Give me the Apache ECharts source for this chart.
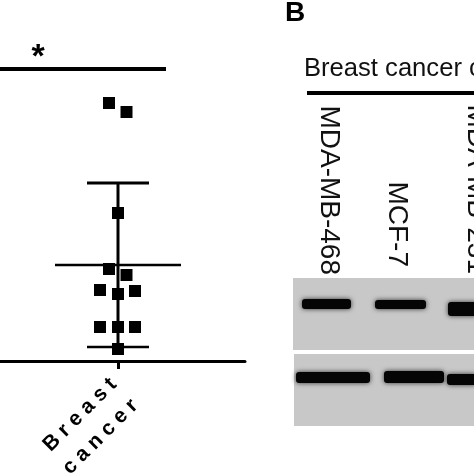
<!DOCTYPE html>
<html><head><meta charset="utf-8">
<style>html,body{margin:0;padding:0;background:#fff}#c{width:474px;height:474px}</style>
<script src="https://cdn.jsdelivr.net/npm/echarts@6/dist/echarts.min.js"></script>
</head><body><div id="c"></div>
<script>
const categoryLabel = 'B r e a s t\nc a n c e r';
const pointX = [-0.9, 0.85, 0, -0.9, 0.85, -1.8, 0, 1.7, -1.8, 0, 1.7, 0];
const pointY = [25.8, 24.9, 14.8, 9.2, 8.6, 7.1, 6.7, 7.0, 3.4, 3.4, 3.4, 1.2];
const meanValue = 9.6, sdHigh = 17.8, sdLow = 1.4;
const sigY = 29.2, sigX = [-11.8, 4.8];
const cellLines = ['MDA-MB-468', 'MCF-7', 'MDA-MB-231'];

const chart = echarts.init(document.getElementById('c'), null, {renderer: 'canvas'});
const font = 'Liberation Sans, Arial, sans-serif';
const vText = (t, x, bottom) => ({type: 'text', rotation: -Math.PI / 2, x, y: bottom,
  style: {text: t, font: '28px ' + font, fill: '#111', textAlign: 'right', textVerticalAlign: 'middle'}});
const band = (x, y, w, h) => ({type: 'rect', shape: {x, y, width: w, height: h, r: 3},
  style: {fill: '#050505', shadowBlur: 5, shadowColor: 'rgba(0,0,0,0.75)'}});

chart.setOption({
  animation: false,
  backgroundColor: '#fff',
  grid: {left: 0, top: 1, width: 245, height: 360, containLabel: false, outerBoundsMode: 'none'},
  xAxis: {type: 'value', min: -11.8, max: 12.7, splitLine: {show: false},
    axisLine: {show: true, onZero: false, lineStyle: {color: '#000', width: 3}},
    axisTick: {show: true, customValues: [0], length: 8, lineStyle: {color: '#000', width: 3}},
    axisLabel: {show: true, customValues: [0.6], formatter: () => categoryLabel, rotate: 45, margin: 31,
      fontFamily: font, fontWeight: 'bold', fontSize: 21, color: '#000', lineHeight: 30, align: 'right', verticalAlign: 'middle'}},
  yAxis: {type: 'value', min: 0, max: 36, show: false},
  series: [
    {type: 'custom', silent: true, clip: false, data: [[0, meanValue, sdHigh, sdLow]],
      renderItem: (p, api) => {
        const c = v => api.coord(v);
        const ln = (a, b, w) => ({type: 'line', shape: {x1: a[0], y1: a[1], x2: b[0], y2: b[1]}, style: {stroke: '#000', lineWidth: w}});
        const m = api.value(1), h = api.value(2), l = api.value(3);
        return {type: 'group', children: [
          ln(c([0, h]), c([0, l]), 3),
          ln(c([-3.1, h]), c([3.1, h]), 3),
          ln(c([-6.3, m]), c([6.3, m]), 2.5),
          ln(c([-3.1, l]), c([3.1, l]), 2.5)
        ]};
      }},
    {type: 'scatter', symbol: 'rect', symbolSize: 12, itemStyle: {color: '#000', opacity: 1},
      data: pointX.map((x, i) => [x, pointY[i]])},
    {type: 'line', symbol: 'none', lineStyle: {color: '#000', width: 4},
      data: [[sigX[0], sigY], [sigX[1], sigY]]}
  ],
  graphic: [
    {type: 'text', x: 38, y: 58, style: {text: '*', font: 'bold 34px ' + font, fill: '#000', textAlign: 'center', textVerticalAlign: 'middle'}},
    {type: 'text', x: 285, y: 13, style: {text: 'B', font: 'bold 28px ' + font, fill: '#000', textAlign: 'left', textVerticalAlign: 'middle'}},
    {type: 'text', x: 304, y: 69, style: {text: 'Breast cancer cell lines', font: '25.6px ' + font, fill: '#111', textAlign: 'left', textVerticalAlign: 'middle'}},
    {type: 'rect', shape: {x: 307, y: 91, width: 170, height: 4}, style: {fill: '#000'}},
    vText(cellLines[0], 329, 275), vText(cellLines[1], 397, 267), vText(cellLines[2], 476, 274),
    {type: 'rect', shape: {x: 293, y: 278, width: 181, height: 72}, style: {fill: '#c8c8c8'}},
    {type: 'rect', shape: {x: 294, y: 354, width: 180, height: 72}, style: {fill: '#c8c8c8'}},
    band(302, 299, 49, 10), band(375, 300, 51, 9), band(448, 302, 30, 14),
    band(296, 372, 74, 11), band(384, 371, 60, 12), band(447, 374, 30, 11)
  ]
});
</script></body></html>
